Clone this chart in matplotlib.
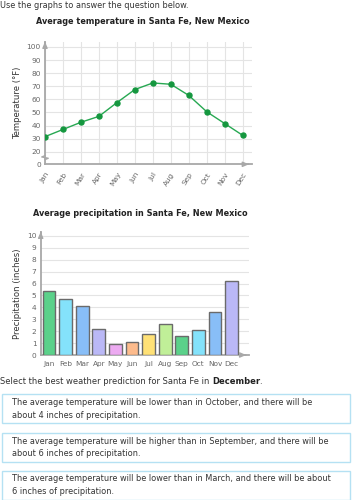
import matplotlib
matplotlib.use("Agg")
import matplotlib.pyplot as plt
from matplotlib.patches import Rectangle
from matplotlib.lines import Line2D
import numpy as np

months = ["Jan", "Feb", "Mar", "Apr", "May", "Jun", "Jul", "Aug", "Sep", "Oct", "Nov", "Dec"]
temperature = [31.5, 37, 42.5, 47, 57.5, 67.5, 72.5, 71.5, 63, 50.5, 41.5, 32.5]
precipitation = [5.4, 4.7, 4.1, 2.2, 0.9, 1.1, 1.8, 2.6, 1.6, 2.1, 3.6, 6.2]
bar_colors = ["#5bd18a", "#84e2fb", "#88bef7", "#bab8f6", "#ecaaf1", "#fdbb8c",
              "#ffe176", "#c0ef98", "#5bd18a", "#84e2fb", "#88bef7", "#bab8f6"]
temp_ticks = [0, 20, 30, 40, 50, 60, 70, 80, 90, 100]
precip_ticks = list(range(0, 11))
answers = [
    "The average temperature will be lower than in October, and there will be\nabout 4 inches of precipitation.",
    "The average temperature will be higher than in September, and there will be\nabout 6 inches of precipitation.",
    "The average temperature will be lower than in March, and there will be about\n6 inches of precipitation.",
]

W, H = 352, 500
fig = plt.figure(figsize=(W / 100, H / 100), dpi=100)
fig.patch.set_facecolor("white")
plt.rcParams["font.family"] = ["DejaVu Sans"]

def fx(px):
    return px / W

def fy(py):
    return 1 - py / H

AXC = "#a8a8a8"
GRID = "#e4e4e4"
TXT = "#666666"

def style_axes(ax):
    for s in ["top", "right"]:
        ax.spines[s].set_visible(False)
    for s in ["left", "bottom"]:
        ax.spines[s].set_color(AXC)
        ax.spines[s].set_linewidth(1.3)
    ax.tick_params(length=0, labelsize=5.3, colors=TXT)
    ax.annotate("", xy=(0, 1.0), xytext=(0, 0.97), xycoords="axes fraction",
                arrowprops=dict(arrowstyle="-|>,head_length=0.35,head_width=0.15", color=AXC, lw=1.0),
                annotation_clip=False)
    ax.annotate("", xy=(1.0, 0), xytext=(0.97, 0), xycoords="axes fraction",
                arrowprops=dict(arrowstyle="-|>,head_length=0.35,head_width=0.15", color=AXC, lw=1.0),
                annotation_clip=False)

fig.text(fx(0), fy(5.5), "Use the graphs to answer the question below.", fontsize=5.9,
         color="#333333", va="center", ha="left")

# ---------- Temperature chart ----------
x = np.arange(len(months))
ax1_left, ax1_w = 45, 251.7 - 45
ax1 = fig.add_axes([fx(ax1_left), fy(164.3), fx(ax1_w), (164.3 - 41.7) / H])
ymin1 = 10.4
ax1.set_xlim(0, 11.5)
ax1.set_ylim(ymin1, 104)
ax1.set_yticks([ymin1] + temp_ticks[1:])
ax1.set_yticklabels([str(t) for t in temp_ticks])
ax1.set_xticks(x)
ax1.set_xticklabels(months, rotation=58, ha="right", rotation_mode="anchor")
ax1.grid(True, color=GRID, lw=0.8)
ax1.set_axisbelow(True)
style_axes(ax1)
ax1.tick_params(axis="y", pad=3)
ax1.tick_params(axis="x", pad=5)
ax1.plot(x, temperature, color="#27a852", lw=1.0, marker="o", ms=3.6,
         markerfacecolor="#15973f", markeredgecolor="#15973f", zorder=3)
ax1.set_ylabel("Temperature (°F)", fontsize=6.1, color="#333333")
ax1.yaxis.set_label_coords((22 - ax1_left) / ax1_w, 0.5)
zz_x = [0, -0.18, 0.18, 0]
zz_y = [17.0, 16.0, 15.0, 14.0]
ax1.add_line(Line2D(zz_x, zz_y, color=AXC, lw=1.0, clip_on=False, zorder=5))
fig.text(fx(143), fy(22), "Average temperature in Santa Fe, New Mexico", fontsize=5.9,
         fontweight="bold", ha="center", va="center", color="#222222")

# ---------- Precipitation chart ----------
ax2_left, ax2_w = 40.7, 249 - 40.7
ax2 = fig.add_axes([fx(ax2_left), fy(355), fx(ax2_w), (355 - 231.7) / H])
ax2.set_xlim(-0.5, 12.05)
ax2.set_ylim(0, 10.36)
ax2.bar(x, precipitation, width=0.78, color=bar_colors, edgecolor="#6a6a6a", lw=1.0, zorder=3)
ax2.set_xticks(x)
ax2.set_xticklabels(months)
ax2.set_yticks(precip_ticks)
ax2.yaxis.grid(True, color=GRID, lw=0.8)
ax2.set_axisbelow(True)
style_axes(ax2)
ax2.tick_params(axis="y", pad=3)
ax2.tick_params(axis="x", pad=4)
ax2.set_ylabel("Precipitation (inches)", fontsize=6.1, color="#333333")
ax2.yaxis.set_label_coords((21.7 - ax2_left) / ax2_w, 0.5)
fig.text(fx(140), fy(213.3), "Average precipitation in Santa Fe, New Mexico", fontsize=5.9,
         fontweight="bold", ha="center", va="center", color="#222222")

# ---------- Question ----------
fig.canvas.draw()
r = fig.canvas.get_renderer()
QFS = 6.0
q1 = fig.text(fx(0), fy(381), "Select the best weather prediction for Santa Fe in ", fontsize=QFS,
              color="#333333", va="center", ha="left")
bb = q1.get_window_extent(r)
q2 = fig.text(bb.x1 / W, fy(381), "December", fontsize=QFS, fontweight="bold",
              color="#222222", va="center", ha="left")
bb2 = q2.get_window_extent(r)
fig.text((bb2.x1 - 1.5) / W, fy(381), ".", fontsize=QFS, color="#333333", va="center", ha="left")

box_tops = [394.3, 433, 470.7]
for top, txt in zip(box_tops, answers):
    h = 29
    fig.patches.append(Rectangle((fx(2), fy(top + h)), fx(348), h / H, transform=fig.transFigure,
                                 facecolor="white", edgecolor="#b5e1f3", lw=1.0))
    fig.text(fx(12), fy(top + 14.5), txt, fontsize=5.9, color="#333333", va="center",
             ha="left", linespacing=1.5)

fig.savefig("out.png", dpi=100, facecolor="white")
